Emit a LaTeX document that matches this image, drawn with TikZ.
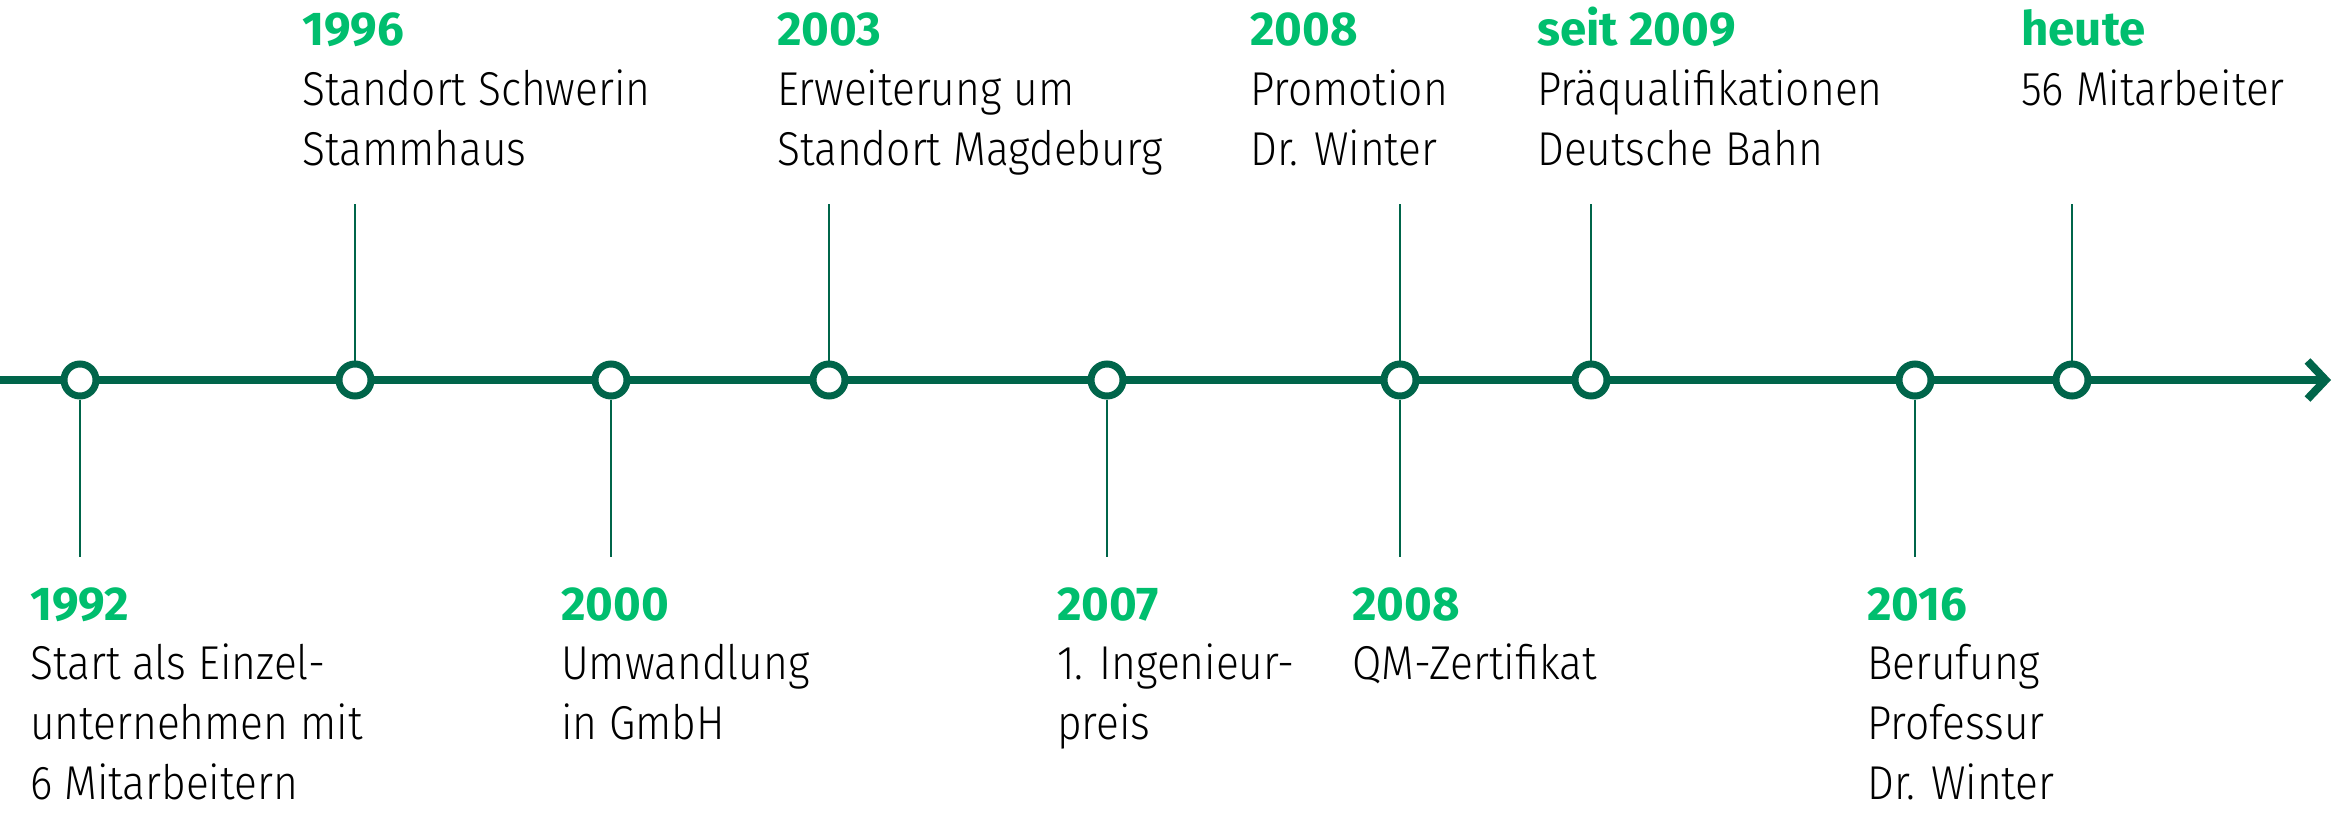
\documentclass[tikz,border=0pt]{standalone}
\usepackage{fontspec}
\setmainfont{Fira Sans Light}[FakeStretch=0.895]
\newfontfamily\yearfont{Fira Sans Bold}
\usetikzlibrary{arrows.meta}
\definecolor{tldark}{HTML}{00654A}
\definecolor{tlgreen}{HTML}{00BE6E}
\newcommand{\evlabel}[2]{\vtop{\baselineskip=59.7pt\lineskiplimit=-1000pt\hbox{\yearfont\color{tlgreen}#1}#2}}
\newcommand{\tline}[1]{\hbox{#1}}
\tikzset{
  tlcircle/.style={circle, draw=tldark, fill=white, line width=7pt, minimum size=32pt, inner sep=0pt},
  stem/.style={draw=tldark, line width=2.2pt},
  mainline/.style={draw=tldark, line width=8pt, -{Straight Barb[length=18pt,width=38pt]}},
  evtext/.style={anchor=base west, inner sep=0pt, text=black, font=\fontsize{47.5}{59.7}\selectfont},
}
\begin{document}
\begin{tikzpicture}[x=1pt,y=-1pt]
\useasboundingbox (0,0) rectangle (2336,816);
% timeline
\coordinate (lstart) at (0,380);
\coordinate (lend) at (2331,380);
\draw[mainline] (lstart) -- (lend);
% event circles
\node[tlcircle] (c92) at (80,380) {};
\node[tlcircle] (c96) at (355,380) {};
\node[tlcircle] (c00) at (611,380) {};
\node[tlcircle] (c03) at (829,380) {};
\node[tlcircle] (c07) at (1107,380) {};
\node[tlcircle] (c08a) at (1400,380) {};
\node[tlcircle] (c09) at (1591,380) {};
\node[tlcircle] (c16) at (1915,380) {};
\node[tlcircle] (cheute) at (2072,380) {};
% stem ends
\coordinate (s96) at (355,204);
\coordinate (s03) at (829,204);
\coordinate (s08b) at (1400,204);
\coordinate (s09) at (1591,204);
\coordinate (sheute) at (2072,204);
\coordinate (s92) at (80,557);
\coordinate (s00) at (611,557);
\coordinate (s07) at (1107,557);
\coordinate (s08a) at (1400,557);
\coordinate (s16) at (1915,557);
% stems
\draw[stem] (c96.north) -- (s96);
\draw[stem] (c03.north) -- (s03);
\draw[stem] (c08a.north) -- (s08b);
\draw[stem] (c09.north) -- (s09);
\draw[stem] (cheute.north) -- (sheute);
\draw[stem] (c92.south) -- (s92);
\draw[stem] (c00.south) -- (s00);
\draw[stem] (c07.south) -- (s07);
\draw[stem] (c08a.south) -- (s08a);
\draw[stem] (c16.south) -- (s16);
% upper labels
\node[evtext] (t96) at (302,46) {\evlabel{1996}{\tline{Standort Schwerin}\tline{Stammhaus}}};
\node[evtext] (t03) at (777,46) {\evlabel{2003}{\tline{Erweiterung um}\tline{Standort Magdeburg}}};
\node[evtext] (t08b) at (1250,46) {\evlabel{2008}{\tline{Promotion}\tline{Dr. Winter}}};
\node[evtext] (t09) at (1537,46) {\evlabel{seit 2009}{\tline{Präqualifikationen}\tline{Deutsche Bahn}}};
\node[evtext] (theute) at (2021,46) {\evlabel{heute}{\tline{56 Mitarbeiter}}};
% lower labels
\node[evtext] (t92) at (30,620) {\evlabel{1992}{\tline{Start als Einzel-}\tline{unternehmen mit}\tline{6 Mitarbeitern}}};
\node[evtext] (t00) at (561,620) {\evlabel{2000}{\tline{Umwandlung}\tline{in GmbH}}};
\node[evtext] (t07) at (1057,620) {\evlabel{2007}{\tline{1. Ingenieur-}\tline{preis}}};
\node[evtext] (t08a) at (1352,620) {\evlabel{2008}{\tline{QM-Zertifikat}}};
\node[evtext] (t16) at (1867,620) {\evlabel{2016}{\tline{Berufung}\tline{Professur}\tline{Dr. Winter}}};
\end{tikzpicture}
\end{document}
